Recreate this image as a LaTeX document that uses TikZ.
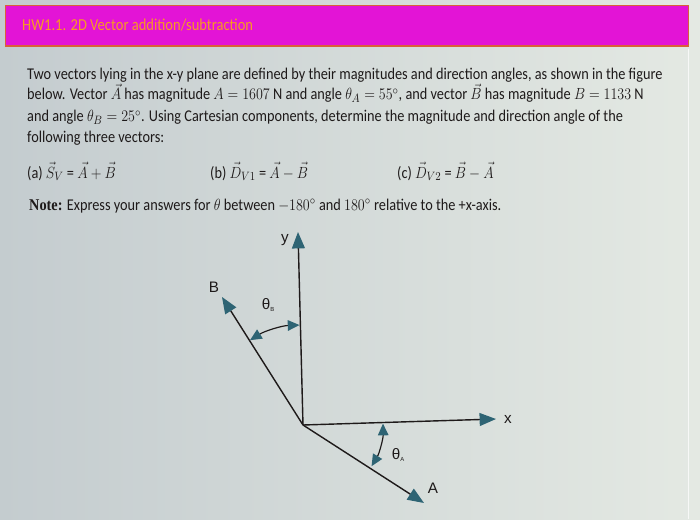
\documentclass[tikz,border=0pt]{standalone}
\usepackage{amsmath}
\usepackage{fontspec}
\setmainfont{Carlito}
\newfontfamily\figfont{Liberation Sans}
\newfontfamily\notefont{Liberation Serif}
\usetikzlibrary{arrows.meta,calc}
\definecolor{bgGrey}{HTML}{E4E9E3}
\definecolor{bgBlue}{HTML}{C4CCCF}
\definecolor{barMag}{HTML}{E314D6}
\definecolor{barEdge}{HTML}{D8603A}
\definecolor{hdText}{HTML}{F79A22}
\definecolor{inkDark}{HTML}{1E1A1A}
\definecolor{tipTeal}{HTML}{2E6474}

\tikzset{
  txt/.style={anchor=base west, inner sep=0pt, text=inkDark, yscale=1.15, transform shape, font=\fontsize{12.2}{14}\selectfont},
  lbl/.style={inner sep=0pt, text=inkDark, font=\figfont\fontsize{13}{15}\selectfont},
  vec/.style={draw=inkDark, line width=1.2pt, -{Triangle[length=14,width=11,color=tipTeal]}},
  ang/.style={draw=inkDark, line width=1pt, {Triangle[length=10,width=9,color=tipTeal]}-{Triangle[length=10,width=9,color=tipTeal]}}
}

\begin{document}
\begin{tikzpicture}[x=0.03cm,y=0.03cm]
  \shade[left color=bgBlue, right color=bgGrey] (0,0) rectangle (700,519);
  \useasboundingbox (0,0) rectangle (700,519);
  \draw[white!70!bgGrey, line width=0.6pt] (688,470) -- (688,0);
  \fill[barEdge] (5,514) rectangle (689,472);
  \fill[barMag] (6,513) rectangle (688,474);
  \node[anchor=base west, inner sep=0pt, text=hdText, yscale=1.15, transform shape, font=\fontsize{12.4}{14}\selectfont] (title) at (22,488) {HW1.1. 2D Vector addition/subtraction};

  \node[txt] (l1) at (27,440) {Two vectors lying in the x-y plane are defined by their magnitudes and direction angles, as shown in the figure};
  \node[txt] (l2) at (27,419) {below. Vector $\vec{A}$ has magnitude $A = 1607\ \mathrm{N}$ and angle $\theta_A = 55^\circ$, and vector $\vec{B}$ has magnitude $B = 1133\ \mathrm{N}$};
  \node[txt] (l3) at (27,397) {and angle $\theta_B = 25^\circ$. Using Cartesian components, determine the magnitude and direction angle of the};
  \node[txt] (l4) at (27,377) {following three vectors:};
  \node[txt] (pa) at (27,341) {(a) $\vec{S}_V$ = $\vec{A} + \vec{B}$};
  \node[txt] (pb) at (210,341) {(b) $\vec{D}_{V1}$ = $\vec{A} - \vec{B}$};
  \node[txt] (pc) at (397,341) {(c) $\vec{D}_{V2}$ = $\vec{B} - \vec{A}$};
  \node[txt] (note) at (29,309) {{\notefont\bfseries Note:} Express your answers for $\theta$ between $-180^\circ$ and $180^\circ$ relative to the +x-axis.};

  \coordinate (O) at (303,94);
  \coordinate (Ytip) at (298,287);
  \coordinate (Xtip) at (496,100);
  \coordinate (Btip) at (222,222);
  \coordinate (Atip) at (424,16);
  \draw[vec] (O) -- (Ytip);
  \draw[vec] (O) -- (Xtip);
  \draw[vec] (O) -- (Btip);
  \draw[vec] (O) -- (Atip);
  \node[lbl] (ylab) at (285,279) {y};
  \node[lbl] (xlab) at (508,100) {x};
  \node[lbl] (blab) at (214,232) {B};
  \node[lbl] (alab) at (433,31) {A};
  \draw[ang] ($(O)+(122:100)$) arc[start angle=122, end angle=92, radius=100];
  \draw[ang] ($(O)+(-31:80)$) arc[start angle=-31, end angle=1, radius=80];
  \node[lbl] (thb) at (268,214) {θ\raisebox{-0.3ex}{\tiny B}};
  \node[lbl] (tha) at (398,64) {θ\raisebox{-0.3ex}{\tiny A}};
\end{tikzpicture}
\end{document}
